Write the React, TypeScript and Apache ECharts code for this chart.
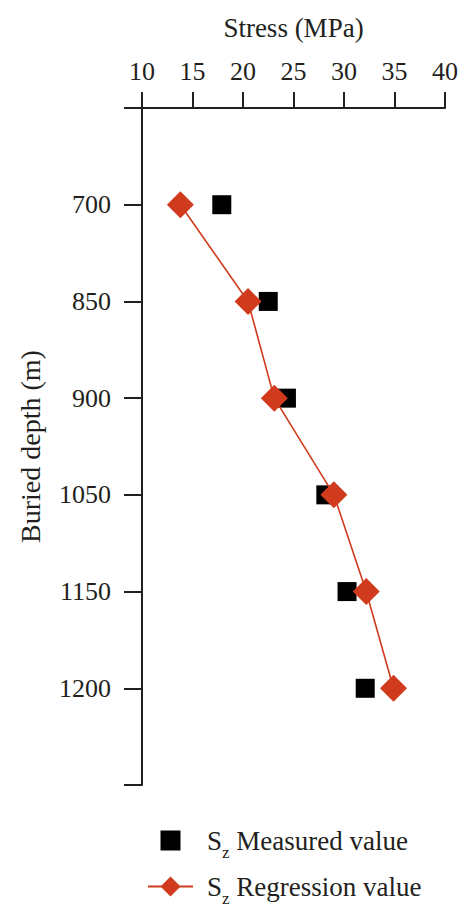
import React, { useEffect, useRef } from "react";
import * as echarts from "echarts";

// Buried depth categories (empty slots pad the axis top and bottom)
const depths = ["", "700", "850", "900", "1050", "1150", "1200", ""];
const measured = [17.9, 22.5, 24.3, 28.2, 30.3, 32.1];
const regression = [13.8, 20.5, 23.1, 29.0, 32.2, 34.9];
const stressTicks = { min: 10, max: 40, interval: 5 };

const RED = "#d03b1d";
const INK = "#231f20";
const FONT = "Liberation Serif";

const App: React.FC = () => {
  const chartRef = useRef<HTMLDivElement>(null);

  useEffect(() => {
    document.body.style.margin = "0";
    if (!chartRef.current) return;
    const chart = echarts.init(chartRef.current, undefined, { renderer: "svg" });

    const legendRich = {
      s: { fontFamily: FONT, fontSize: 27, color: INK, padding: [0, 0, 0, 9] },
      sub: { fontFamily: FONT, fontSize: 17, color: INK, padding: [24, 0, 0, 0] },
      t: { fontFamily: FONT, fontSize: 27, color: INK },
    };

    chart.setOption({
      animation: false,
      backgroundColor: "#fff",
      grid: { left: 142, right: 29, top: 108, bottom: 129 },
      xAxis: {
        type: "value",
        position: "top",
        min: stressTicks.min,
        max: stressTicks.max,
        interval: stressTicks.interval,
        name: "Stress (MPa)",
        nameLocation: "middle",
        nameGap: 67,
        nameTextStyle: { fontFamily: FONT, fontSize: 27, color: INK },
        axisLine: { show: true, lineStyle: { color: INK, width: 2 } },
        axisTick: { show: true, length: 16, lineStyle: { color: INK, width: 2 } },
        axisLabel: { fontFamily: FONT, fontSize: 26, color: INK, margin: 24 },
        splitLine: { show: false },
      },
      yAxis: {
        type: "category",
        data: depths,
        inverse: true,
        boundaryGap: false,
        name: "Buried depth (m)",
        nameLocation: "middle",
        nameGap: 98,
        nameTextStyle: { fontFamily: FONT, fontSize: 28, color: INK },
        axisLine: { show: true, lineStyle: { color: INK, width: 2 } },
        axisTick: { show: true, length: 18, lineStyle: { color: INK, width: 2 } },
        axisLabel: { fontFamily: FONT, fontSize: 26, color: INK, margin: 31, interval: 0 },
        splitLine: { show: false },
      },
      legend: {
        orient: "vertical",
        left: 142,
        top: 822,
        itemWidth: 45,
        itemHeight: 25,
        itemGap: 12,
        data: ["Measured value", "Regression value"],
        formatter: (name: string) => `{s|S}{sub|z}{t| ${name}}`,
        textStyle: { rich: legendRich },
      },
      series: [
        {
          name: "Measured value",
          type: "line",
          data: measured.map((v, i) => [v, i + 1]),
          symbol: "rect",
          symbolSize: 19,
          itemStyle: { color: "#000" },
          lineStyle: { width: 0 },
          z: 2,
        },
        {
          name: "Regression value",
          type: "line",
          data: regression.map((v, i) => [v, i + 1]),
          symbol: "diamond",
          symbolSize: 27,
          itemStyle: { color: RED },
          lineStyle: { color: RED, width: 1.6 },
          z: 3,
        },
      ],
    });

    return () => {
      chart.dispose();
    };
  }, []);

  return <div ref={chartRef} style={{ width: 474, height: 914 }} />;
};

export default App;
